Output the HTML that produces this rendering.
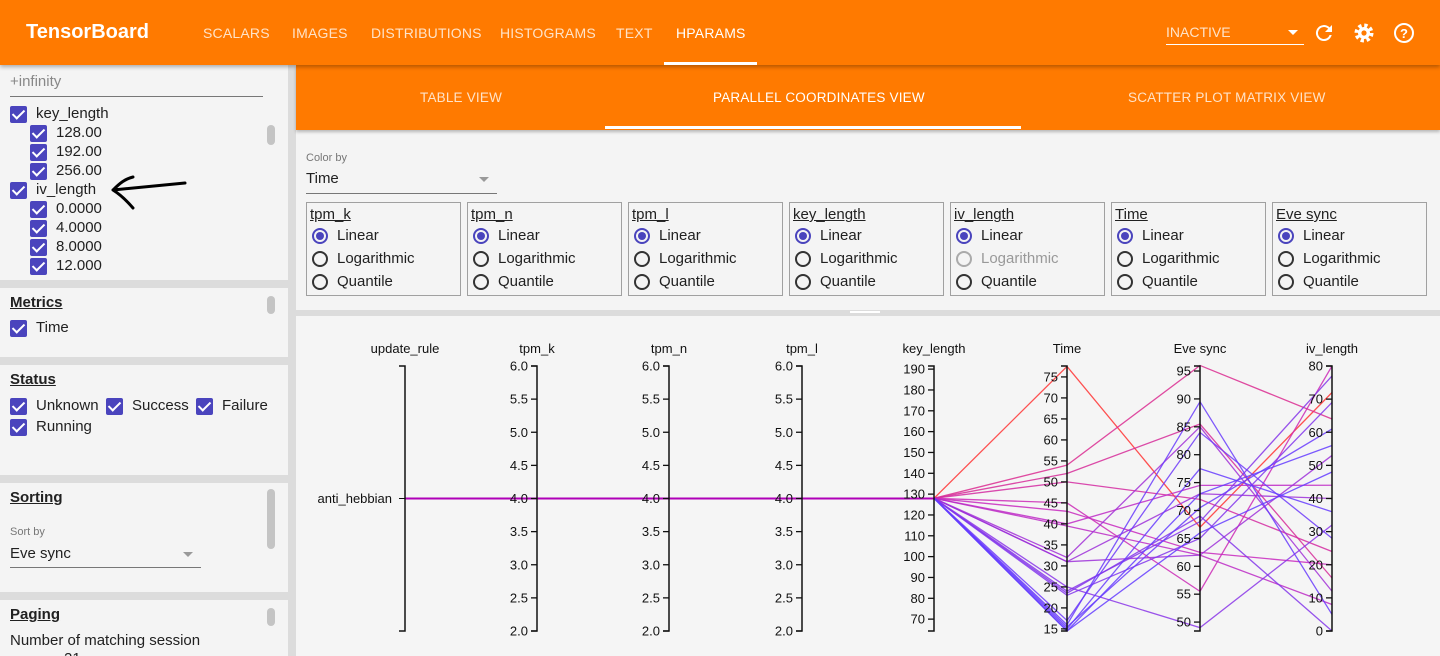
<!DOCTYPE html>
<html><head><meta charset="utf-8">
<style>
*{box-sizing:border-box;margin:0;padding:0}
html,body{width:1440px;height:656px;overflow:hidden}
body{background:#dcdcdc;font-family:"Liberation Sans",Arial,sans-serif;position:relative;color:#212121}
.abs{position:absolute}
.top{left:0;top:0;width:1440px;height:65px;background:#ff7a00;box-shadow:0 2px 4px rgba(0,0,0,.3);z-index:3}
.tab{position:absolute;top:25px;font-size:14px;color:#ffe3c8;letter-spacing:.2px}
.sub{left:296px;top:65px;width:1144px;height:65px;background:#ff7a00;box-shadow:0 2px 3px rgba(0,0,0,.25);z-index:2}
.sub .tab{top:25px;font-size:13.5px}
.side{background:#f4f4f4;left:0;width:288px;overflow:hidden}
.cb{position:absolute;width:17px;height:17px;background:#4a44bd;border-radius:2px}
.cb:after{content:"";position:absolute;left:5px;top:1px;width:5px;height:10px;border:solid #fff;border-width:0 2px 2px 0;transform:rotate(45deg)}
.lbl{position:absolute;font-size:15px;color:#212121}
.h{position:absolute;font-size:15px;font-weight:bold;text-decoration:underline}
.scroll{position:absolute;width:8px;background:#c4c4c4;border-radius:4px}
.box{position:absolute;top:72px;width:155px;height:94px;border:1px solid #a0a0a0}
.box .t{position:absolute;left:3px;top:3px;font-size:15px;text-decoration:underline}
.rad{position:absolute;left:5px;width:16px;height:16px;border:2px solid #333;border-radius:50%}
.rad.on{border-color:#4a44bd}
.rad.on:after{content:"";position:absolute;left:2px;top:2px;width:8px;height:8px;border-radius:50%;background:#4a44bd}
.rad.dis{border-color:#aaa}
.box .o{position:absolute;left:30px;font-size:15px}
</style></head><body>
<div class="abs top">
<div class="abs" style="left:26px;top:21px;font-size:20px;color:#fff;font-weight:bold">TensorBoard</div>
<div class="tab" style="left:203px">SCALARS</div>
<div class="tab" style="left:292px">IMAGES</div>
<div class="tab" style="left:371px">DISTRIBUTIONS</div>
<div class="tab" style="left:500px">HISTOGRAMS</div>
<div class="tab" style="left:616px">TEXT</div>
<div class="tab" style="left:676px;color:#fff">HPARAMS</div>
<div class="abs" style="left:664px;top:62px;width:93px;height:3px;background:#fff"></div>
<div class="abs" style="left:1166px;top:24px;width:138px;height:21px;border-bottom:1px solid #fff;color:#ffe3c8;font-size:14px">INACTIVE<span style="position:absolute;right:6px;top:6px;border:5px solid transparent;border-top:5px solid #fff"></span></div>
<svg class="abs" style="left:1312px;top:21px" width="24" height="24" viewBox="0 0 24 24"><path d="M17.6 6.4A8 8 0 1 0 19.7 14h-2.1A6 6 0 1 1 12 6c1.7 0 3.1.7 4.2 1.8L13 11h7V4z" fill="#fff"/></svg>
<svg class="abs" style="left:1352px;top:21px" width="24" height="24" viewBox="0 0 24 24"><circle cx="12" cy="12" r="7" fill="none" stroke="#fff" stroke-width="5" stroke-dasharray="3 2.5"/><circle cx="12" cy="12" r="6" fill="#fff"/><circle cx="12" cy="12" r="2.6" fill="#ff7a00"/></svg>
<svg class="abs" style="left:1392px;top:21px" width="24" height="24" viewBox="0 0 24 24"><circle cx="12" cy="12" r="9" fill="none" stroke="#fff" stroke-width="2"/><text x="12" y="17" text-anchor="middle" font-size="13" font-weight="bold" fill="#fff" font-family="Liberation Sans">?</text></svg>
</div>

<div class="abs side" style="top:65px;height:215px">
<div class="lbl" style="left:10px;top:8px;color:#888">+infinity</div>
<div class="abs" style="left:10px;top:31px;width:253px;height:1px;background:#777"></div>
<div class="scroll" style="left:267px;top:60px;height:20px"></div>
<div class="cb" style="left:10px;top:41px"></div><div class="lbl" style="left:36px;top:40px">key_length</div>
<div class="cb" style="left:30px;top:60px"></div><div class="lbl" style="left:56px;top:59px">128.00</div>
<div class="cb" style="left:30px;top:79px"></div><div class="lbl" style="left:56px;top:78px">192.00</div>
<div class="cb" style="left:30px;top:98px"></div><div class="lbl" style="left:56px;top:97px">256.00</div>
<div class="cb" style="left:10px;top:117px"></div><div class="lbl" style="left:36px;top:116px">iv_length</div>
<svg class="abs" style="left:105px;top:108px" width="82" height="38"><path d="M80 10 L8 17 M8 17 C15 10 20 6 28 4 M8 17 C16 22 22 28 28 35" stroke="#000" stroke-width="3" fill="none" stroke-linecap="round"/></svg>
<div class="cb" style="left:30px;top:136px"></div><div class="lbl" style="left:56px;top:135px">0.0000</div>
<div class="cb" style="left:30px;top:155px"></div><div class="lbl" style="left:56px;top:154px">4.0000</div>
<div class="cb" style="left:30px;top:174px"></div><div class="lbl" style="left:56px;top:173px">8.0000</div>
<div class="cb" style="left:30px;top:193px"></div><div class="lbl" style="left:56px;top:192px">12.000</div>
</div>
<div class="abs side" style="top:288px;height:69px">
<div class="h" style="left:10px;top:6px">Metrics</div>
<div class="scroll" style="left:267px;top:8px;height:18px"></div>
<div class="cb" style="left:10px;top:32px"></div><div class="lbl" style="left:36px;top:31px">Time</div>
</div>
<div class="abs side" style="top:365px;height:110px">
<div class="h" style="left:10px;top:6px">Status</div>
<div class="cb" style="left:10px;top:33px"></div><div class="lbl" style="left:36px;top:32px">Unknown</div>
<div class="cb" style="left:106px;top:33px"></div><div class="lbl" style="left:132px;top:32px">Success</div>
<div class="cb" style="left:196px;top:33px"></div><div class="lbl" style="left:222px;top:32px">Failure</div>
<div class="cb" style="left:10px;top:54px"></div><div class="lbl" style="left:36px;top:53px">Running</div>
</div>
<div class="abs side" style="top:483px;height:109px">
<div class="h" style="left:10px;top:6px">Sorting</div>
<div class="scroll" style="left:267px;top:6px;height:60px"></div>
<div class="abs" style="left:10px;top:43px;font-size:11px;color:#777">Sort by</div>
<div class="lbl" style="left:10px;top:62px;width:191px;height:23px;border-bottom:1px solid #777">Eve sync<span style="position:absolute;right:8px;top:7px;border:5px solid transparent;border-top:5px solid #999"></span></div>
</div>
<div class="abs side" style="top:600px;height:56px">
<div class="h" style="left:10px;top:6px">Paging</div>
<div class="scroll" style="left:267px;top:8px;height:18px"></div>
<div class="lbl" style="left:10px;top:32px">Number of matching session</div>
<div class="lbl" style="left:64px;top:50px">21</div>
</div>

<div class="abs sub">
<div class="tab" style="left:124px">TABLE VIEW</div>
<div class="tab" style="left:417px;color:#fff">PARALLEL COORDINATES VIEW</div>
<div class="tab" style="left:832px">SCATTER PLOT MATRIX VIEW</div>
<div class="abs" style="left:309px;top:61px;width:416px;height:3px;background:#fff"></div>
</div>

<div class="abs" style="left:296px;top:130px;width:1144px;height:180px;background:#f4f4f4">
<div class="abs" style="left:10px;top:22px;font-size:11px;color:#777">Color by</div>
<div class="lbl" style="left:10px;top:40px;width:191px;height:24px;border-bottom:1px solid #777">Time<span style="position:absolute;right:8px;top:7px;border:5px solid transparent;border-top:5px solid #999"></span></div>
<div id="boxes"></div>
</div>
<div class="abs" style="left:296px;top:316px;width:1144px;height:340px;background:#f5f5f5;overflow:hidden">
<svg id="chart" width="1144" height="340"></svg>
</div>
<div class="abs" style="left:850px;top:311px;width:30px;height:2px;background:#fff"></div>

<script>
const boxNames=["tpm_k","tpm_n","tpm_l","key_length","iv_length","Time","Eve sync"];
const bx=document.getElementById('boxes');
boxNames.forEach((n,i)=>{
 const d=document.createElement('div');d.className='box';d.style.left=(10+i*161)+'px';
 
 
 const dis=(n==="iv_length");
 d.innerHTML='<div class="t">'+n+'</div><div class="rad on" style="top:25px"></div><div class="o" style="top:24px">Linear</div><div class="rad'+(dis?' dis':'')+'" style="top:48px"></div><div class="o" style="top:47px;'+(dis?'color:#999':'')+'">Logarithmic</div><div class="rad" style="top:71px"></div><div class="o" style="top:70px">Quantile</div>';
 bx.appendChild(d);
});

const axisNames=["update_rule","tpm_k","tpm_n","tpm_l","key_length","Time","Eve sync","iv_length"];
const timeVals=[77.5,54,52,50,45,43,40,39.5,32,31,31,25,24,23.5,23,17,16,15.5,15,14.5,14.5];
const eveVals=[67,96,85.5,72,55.5,62.5,74.5,62,85,62,73,49,68,69,65,84,89.5,70.5,77.5,66,73];
const ivVals=[72,64,16,24,80,20,44,8,12,53,40,32,77,0,69,28,5,61,36,48,56];
const keyVals=[128,128,128,128,128,128,128,128,128,128,128,128,128,128,128,128,128,128,128,128,128];
const tpmVal=4;
const numTicks=[2.0,2.5,3.0,3.5,4.0,4.5,5.0,5.5,6.0];
const keyTicks=[70,80,90,100,110,120,130,140,150,160,170,180,190];
const timeTicks=[15,20,25,30,35,40,45,50,55,60,65,70,75];
const eveTicks=[50,55,60,65,70,75,80,85,90,95];
const ivTicks=[0,10,20,30,40,50,60,70,80];

const OX=296,OY=316;
const axX=[405,537,669,802,934,1067,1200,1332].map(v=>v-OX);
const Y0=366-OY,Y1=631-OY;
function lin(d0,d1){return v=>Y1-(v-d0)/(d1-d0)*(Y1-Y0);}
const yTpm=lin(2,6),yKey=lin(64.3,191.5),yTime=lin(14.5,77.6),yEve=lin(48.4,95.9),yIv=lin(0,80);
const svg=document.getElementById('chart');const NS='http://www.w3.org/2000/svg';
function mk(t,a){const e=document.createElementNS(NS,t);for(const k in a)e.setAttribute(k,a[k]);svg.appendChild(e);return e;}
function col(t){const f=(t-14.5)/(77.6-14.5);
 const a=[100,60,255],b=[200,40,190],c=[255,50,50];let r;
 const g0=Math.min(1,f*2.2);
 if(f<.45){r=a.map((v,i)=>Math.round(v+(b[i]-v)*(f/.45)));}else{const g=(f-.45)/.55;r=b.map((v,i)=>Math.round(v+(c[i]-v)*g));}
 return 'rgb('+r.join(',')+')';}
timeVals.forEach((t,i)=>{
 const ys=[yTpm(4),yTpm(tpmVal),yTpm(tpmVal),yTpm(tpmVal),yKey(keyVals[i]),yTime(t),yEve(eveVals[i]),yIv(ivVals[i])];
 const p=mk('polyline',{points:ys.map((y,j)=>axX[j]+','+y).join(' '),fill:'none',stroke:col(t),'stroke-width':1.3,'stroke-opacity':.85});
 
 
});
mk('line',{x1:axX[0],x2:axX[4],y1:yTpm(4),y2:yTpm(4),stroke:'#b000b8','stroke-width':2});
function axis(i,ticks,sc,fmt){
 const x=axX[i];
 const t=mk('text',{x:x,y:Y0-13,'text-anchor':'middle','font-size':13,fill:'#111','font-family':'Liberation Sans'});t.textContent=axisNames[i];
 
 
 mk('path',{d:`M${x-6},${Y0}H${x}V${Y1}H${x-6}`,fill:'none',stroke:'#111','stroke-width':1.5});
 ticks.forEach(v=>{const y=sc(v);mk('line',{x1:x-6,x2:x,y1:y,y2:y,stroke:'#111','stroke-width':1.3});
  const l=mk('text',{x:x-9,y:y+4.5,'text-anchor':'end','font-size':13,fill:'#111','font-family':'Liberation Sans'});l.textContent=fmt(v);});
}
axis(0,[],null,null);
const lt=mk('text',{x:axX[0]-13,y:yTpm(4)+4.5,'text-anchor':'end','font-size':13,fill:'#111','font-family':'Liberation Sans'});lt.textContent='anti_hebbian';
mk('line',{x1:axX[0]-6,x2:axX[0],y1:yTpm(4),y2:yTpm(4),stroke:'#111'});
[1,2,3].forEach(i=>axis(i,numTicks,yTpm,v=>v.toFixed(1)));
axis(4,keyTicks,yKey,v=>v);
axis(5,timeTicks,yTime,v=>v);
axis(6,eveTicks,yEve,v=>v);
axis(7,ivTicks,yIv,v=>v);
</script>
</body></html>
